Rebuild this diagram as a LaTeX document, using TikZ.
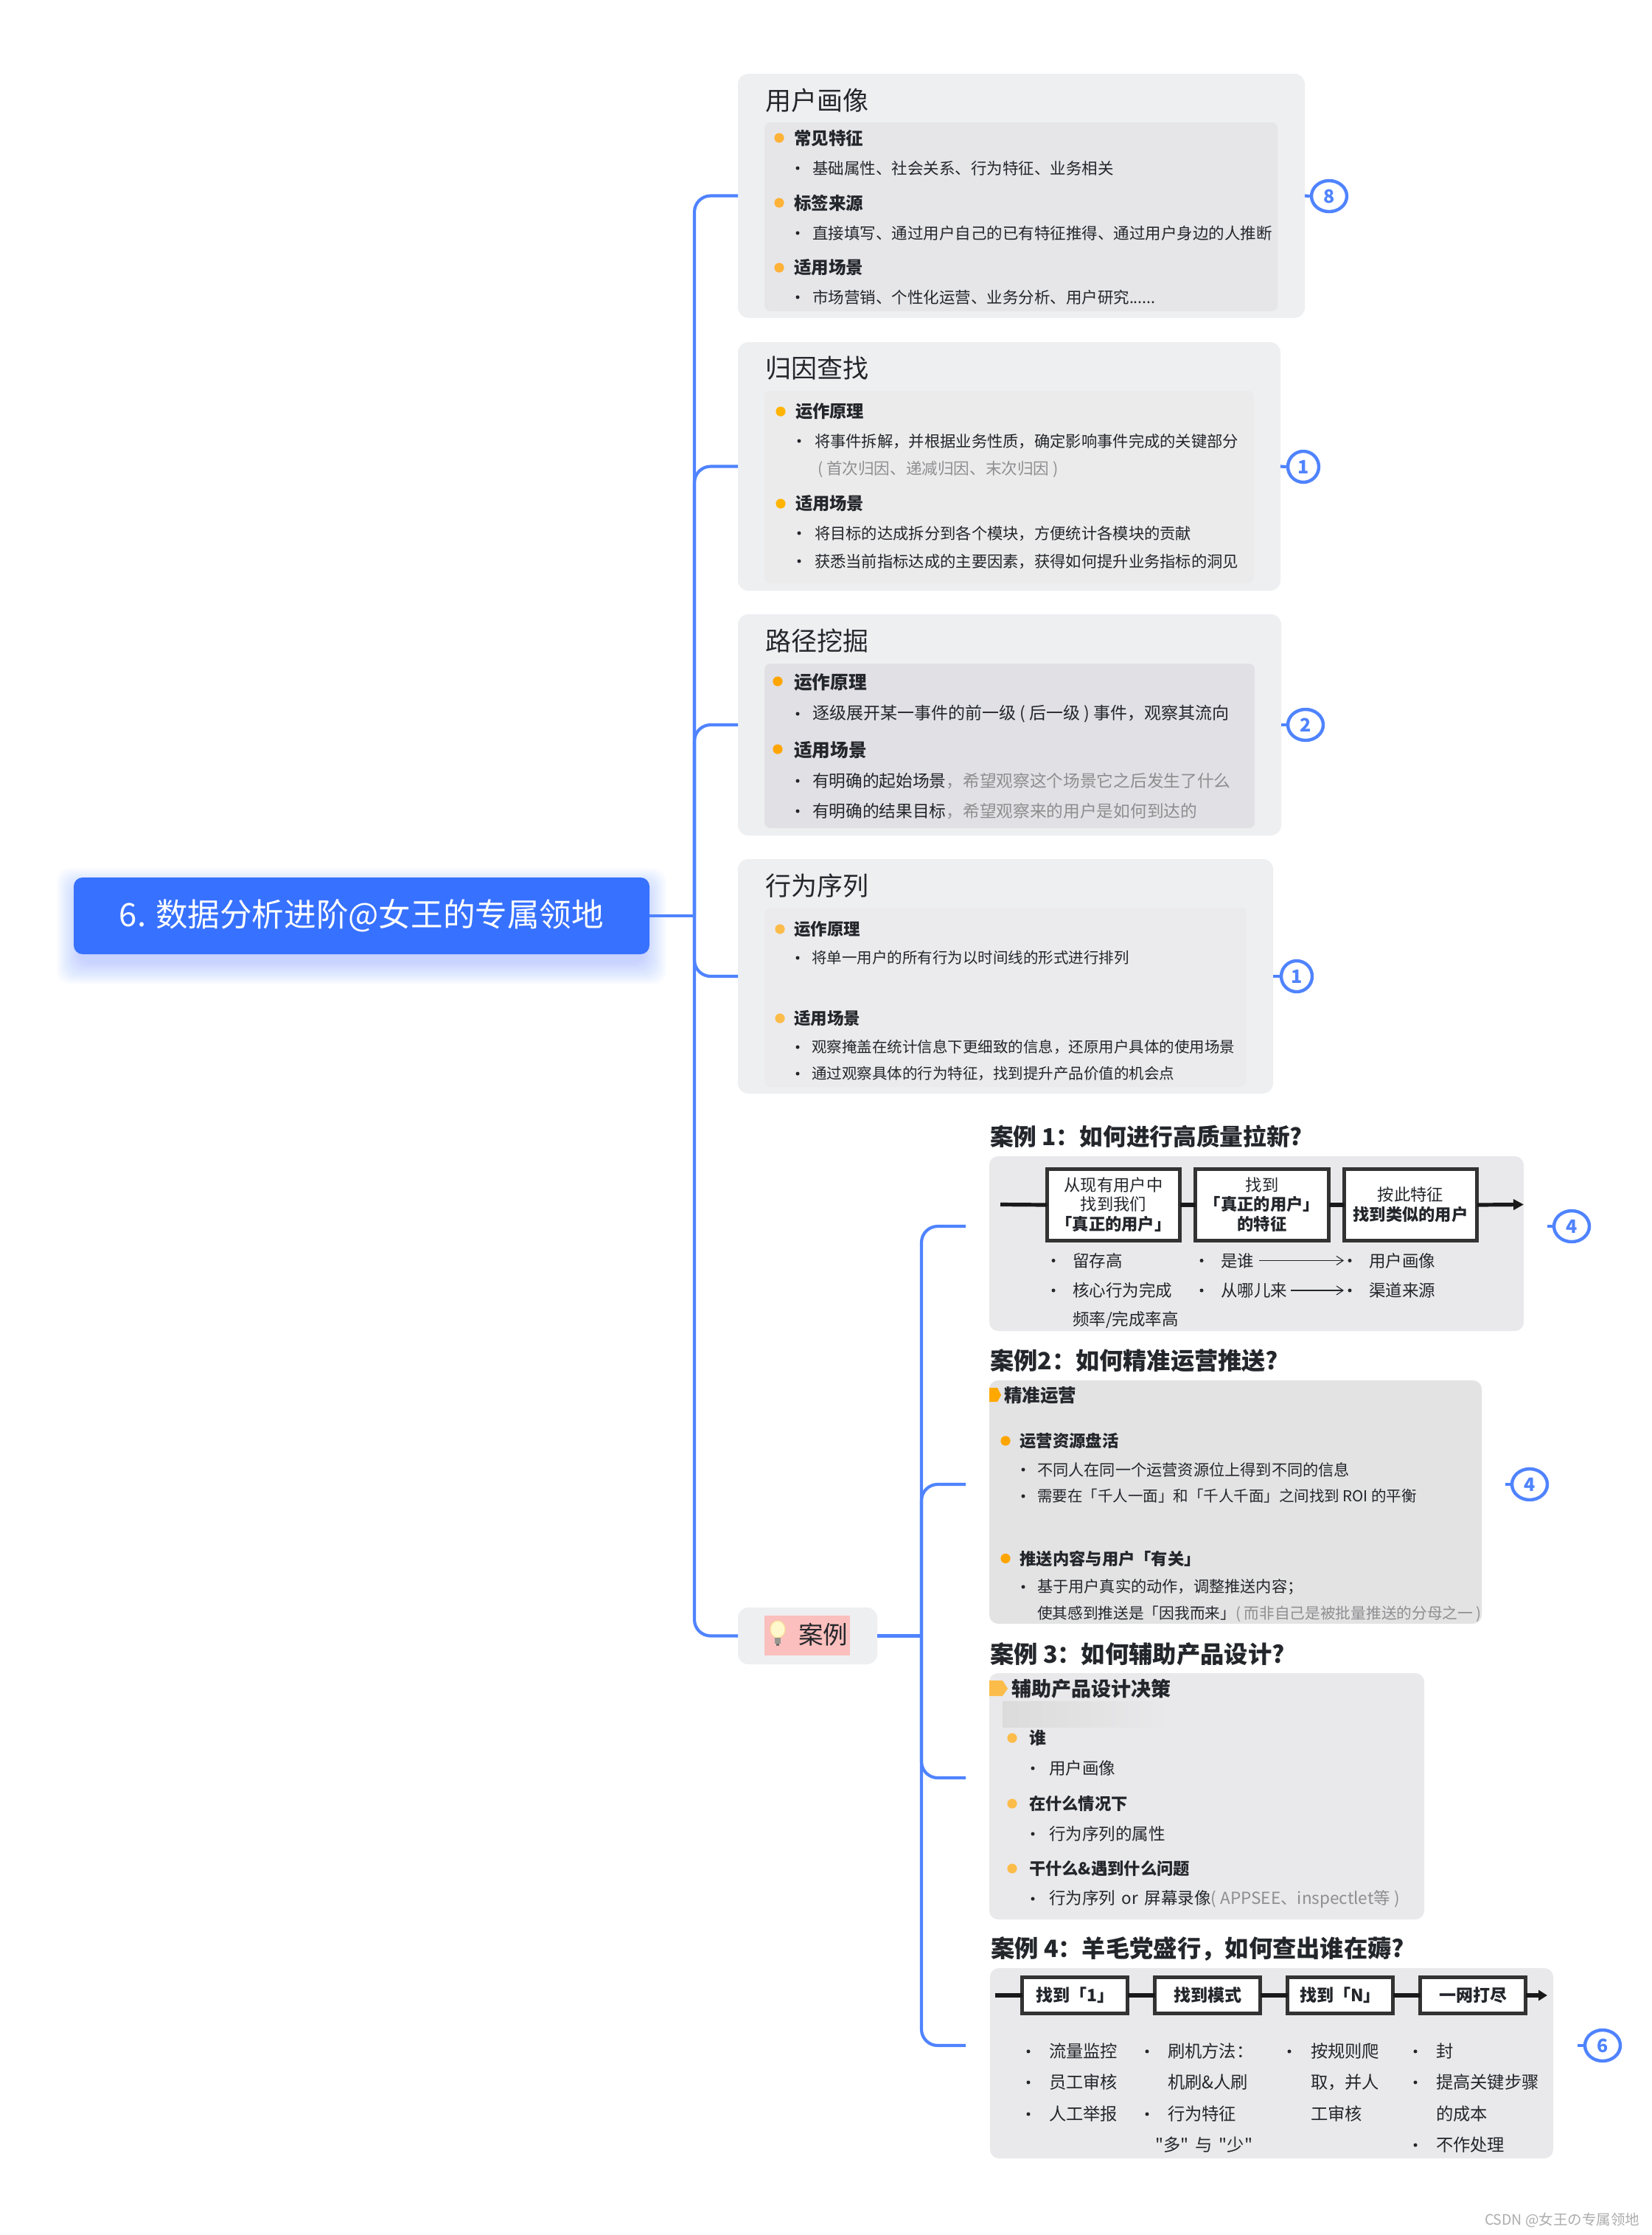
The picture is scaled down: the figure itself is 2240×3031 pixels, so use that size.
\documentclass[tikz,border=0pt]{standalone}
\usepackage{fontspec}
\setmainfont{Noto Sans CJK SC}
\newfontfamily\plainquote{Noto Sans CJK SC}
\usetikzlibrary{shapes.geometric,arrows.meta}
\definecolor{cardbg}{HTML}{EEEFF1}
\definecolor{inA}{HTML}{E6E6E9}
\definecolor{inB}{HTML}{ECEBEC}
\definecolor{inC}{HTML}{E1E0E4}
\definecolor{inD}{HTML}{EBEBED}
\definecolor{panA}{HTML}{E9E9EB}
\definecolor{panB}{HTML}{E3E3E4}
\definecolor{rootblue}{HTML}{3771FF}
\definecolor{linkblue}{HTML}{4F83FF}
\definecolor{ink}{HTML}{23262B}
\definecolor{graytx}{HTML}{8E8E90}
\definecolor{orgA}{HTML}{FFB238}
\definecolor{orgB}{HTML}{FFB400}
\definecolor{orgC}{HTML}{FFA500}
\definecolor{orgD}{HTML}{FCBC4A}
\definecolor{darkbox}{HTML}{333333}
\definecolor{pinkbg}{HTML}{FBBFBD}
\newcounter{tn}
\tikzset{
  px/.code={\pgfmathsetmacro\pxs{#1*0.5}\tikzset{font/.expanded={\noexpand\fontsize{\pxs}{\pxs}\noexpand\selectfont}}},
  txt/.style={anchor=west,inner sep=0pt,outer sep=0pt,text=ink},
  conn/.style={draw=linkblue,line width=2.1pt,rounded corners=11pt},
  stub/.style={draw=linkblue,line width=2.1pt},
  badge/.style={ellipse,draw=linkblue,line width=2.2pt,fill=white,inner sep=0pt,minimum width=24pt,minimum height=21pt,text=linkblue,font=\fontsize{12.5}{12.5}\selectfont\bfseries},
  pane/.style={anchor=north west,inner sep=0pt,outer sep=0pt,draw=none},
  cardbox/.style={pane,fill=cardbg,rounded corners=7pt},
  flowbox/.style={anchor=north west,inner sep=0pt,outer sep=0pt,draw=darkbox,line width=2.5pt,fill=white,text=ink,align=center,font=\fontsize{11}{13.25}\selectfont},
  flowline/.style={draw=black!90,line width=2.6pt},
  thin arrow/.style={draw=ink,line width=0.55pt,-{Straight Barb[length=4.5pt,width=6pt]}},
}
\newcommand\tx[4][]{\stepcounter{tn}\node[txt,#1] (t\arabic{tn}) at (#2,#3) {\rule[-.12em]{0pt}{1em}#4};}
\newcommand\pn[6]{\pgfmathsetmacro\pw{(#5-#3)*0.5}\pgfmathsetmacro\ph{(#6-#4)*0.5}\node[#2,minimum width=\pw pt,minimum height=\ph pt] (#1) at (#3,#4) {};}
\newcommand\dotb[3]{\fill[#3] (#1,#2) circle[radius=3.3pt];}
\newcommand\bu[2]{\fill[ink] (#1,#2) circle[radius=1.25pt];}
\begin{document}
\begin{tikzpicture}[x=0.5pt,y=-0.5pt]
\useasboundingbox (0,0) rectangle (2240,3031);
\fill[white] (0,0) rectangle (2240,3031);

% soft glow under the root
\foreach \i in {0,...,21}{
  \pgfmathsetmacro\g{21-\i}
  \fill[rootblue,opacity=0.012,rounded corners=9pt] (106-1.4*\g,1206-1.4*\g) rectangle (875+1.4*\g,1306+1.4*\g);
}
\node[anchor=north west,inner sep=0pt,outer sep=0pt,fill=rootblue,rounded corners=6pt,minimum width=390.5pt,minimum height=52pt,text=white,font=\fontsize{21.8}{21.8}\selectfont] (root) at (100,1190) {6. 数据分析进阶@女王的专属领地};

% cards
\pn{c1}{cardbox}{1001}{100}{1770}{431}
\pn{c1i}{pane,fill=inA,rounded corners=4pt}{1037}{166}{1733}{422}
\pn{c2}{cardbox}{1001}{464}{1737}{801}
\pn{c2i}{pane,fill=inB,rounded corners=4pt}{1037}{530}{1701}{791}
\pn{c3}{cardbox}{1001}{833}{1738}{1133}
\pn{c3i}{pane,fill=inC,rounded corners=4pt}{1037}{900}{1702}{1123}
\pn{c4}{cardbox}{1001}{1165}{1727}{1483}
\pn{c4i}{pane,fill=inD,rounded corners=4pt}{1037}{1231}{1691}{1474}
\pn{k}{cardbox}{1001}{2180}{1190}{2257}
\pn{kp}{pane,fill=pinkbg}{1037}{2191}{1153}{2245}

% connectors of the first level
\coordinate (j1) at (942,1242);
\draw[stub] (root.east) -- (j1);
\draw[conn] (j1) |- (c1.west);
\draw[conn] (j1) |- (c2.west);
\draw[conn] (j1) |- (c3.west);
\draw[conn] (j1) |- (c4.west);
\draw[conn] (j1) |- (k.west);

% connectors of the second level
\coordinate (j2) at (1250,2218.5);
\coordinate (e1) at (1310,1663);
\coordinate (e2) at (1310,2013);
\coordinate (e3) at (1310,2411);
\coordinate (e4) at (1310,2774);
\draw[stub] (k.east) -- (j2);
\draw[conn] (j2) |- (e1);
\draw[conn] (j2) |- (e2);
\draw[conn] (j2) |- (e3);
\draw[conn] (j2) |- (e4);

% badges
\node[badge] (b1) at (1803,266) {8};
\node[badge,minimum width=21pt] (b2) at (1768,633) {1};
\node[badge] (b3) at (1771,983) {2};
\node[badge,minimum width=21pt] (b4) at (1759,1324) {1};
\draw[stub] (c1.east) -- (b1.west);
\draw[stub] (c2.east) -- (b2.west);
\draw[stub] (c3.east) -- (b3.west);
\draw[stub] (c4.east) -- (b4.west);
\node[badge] (b5) at (2132,1663) {4};
\node[badge] (b6) at (2075,2013) {4};
\node[badge] (b7) at (2174,2774) {6};
\coordinate (s5) at (2099,1663);
\coordinate (s6) at (2042,2013);
\coordinate (s7) at (2140,2774);
\draw[stub] (s5) -- (b5.west);
\draw[stub] (s6) -- (b6.west);
\draw[stub] (s7) -- (b7.west);

% card 1
\tx[px=35]{1038}{136}{用户画像}
\dotb{1057}{187}{orgA}
\tx[px=23.5]{1077}{188}{\bfseries 常见特征}
\bu{1082}{228}
\tx[px=21.5]{1102}{228}{基础属性、社会关系、行为特征、业务相关}
\dotb{1057}{275}{orgA}
\tx[px=23.5]{1077}{276}{\bfseries 标签来源}
\bu{1082}{316}
\tx[px=21.5]{1102}{316}{直接填写、通过用户自己的已有特征推得、通过用户身边的人推断}
\dotb{1057}{363}{orgA}
\tx[px=23.5]{1077}{363}{\bfseries 适用场景}
\bu{1082}{403}
\tx[px=21.5]{1102}{403}{市场营销、个性化运营、业务分析、用户研究......}

% card 2
\tx[px=35]{1038}{499}{归因查找}
\dotb{1059}{558}{orgB}
\tx[px=23.3]{1079}{558}{\bfseries 运作原理}
\bu{1084}{598}
\tx[px=21.3]{1105}{598}{将事件拆解，并根据业务性质，确定影响事件完成的关键部分}
\tx[px=21.6,text=graytx]{1109}{636}{( 首次归因、递减归因、末次归因 )}
\dotb{1059}{683}{orgB}
\tx[px=23.3]{1079}{683}{\bfseries 适用场景}
\bu{1084}{723}
\tx[px=21.3]{1105}{723}{将目标的达成拆分到各个模块，方便统计各模块的贡献}
\bu{1084}{761}
\tx[px=21.3]{1105}{761}{获悉当前指标达成的主要因素，获得如何提升业务指标的洞见}

% card 3
\tx[px=35]{1038}{869}{路径挖掘}
\dotb{1055}{924}{orgC}
\tx[px=24.7]{1077}{925}{\bfseries 运作原理}
\bu{1082}{968}
\tx[px=23]{1102}{968}{逐级展开某一事件的前一级 ( 后一级 ) 事件，观察其流向}
\dotb{1055}{1016}{orgC}
\tx[px=24.7]{1077}{1017}{\bfseries 适用场景}
\bu{1082}{1059}
\tx[px=22.7]{1102}{1059}{有明确的起始场景{\color{graytx}，希望观察这个场景它之后发生了什么}}
\bu{1082}{1100}
\tx[px=22.7]{1102}{1100}{有明确的结果目标{\color{graytx}，希望观察来的用户是如何到达的}}

% card 4
\tx[px=35]{1038}{1201}{行为序列}
\dotb{1058}{1260}{orgD}
\tx[px=22.5]{1077}{1260}{\bfseries 运作原理}
\bu{1082}{1299}
\tx[px=20.5]{1101}{1299}{将单一用户的所有行为以时间线的形式进行排列}
\dotb{1058}{1381}{orgD}
\tx[px=22.5]{1077}{1381}{\bfseries 适用场景}
\bu{1082}{1420}
\tx[px=20.5]{1101}{1420}{观察掩盖在统计信息下更细致的信息，还原用户具体的使用场景}
\bu{1082}{1456}
\tx[px=20.5]{1101}{1456}{通过观察具体的行为特征，找到提升产品价值的机会点}

% case node
\fill[color={rgb,255:red,255;green,248;blue,205}] (1055,2209.5) ellipse[x radius=10,y radius=11.5];
\draw[color={rgb,255:red,250;green,225;blue,150},line width=0.6pt] (1055,2209.5) ellipse[x radius=10,y radius=11.5];
\fill[color={rgb,255:red,150;green,150;blue,145}] (1051,2221) rectangle (1059,2229);
\fill[color={rgb,255:red,110;green,110;blue,105}] (1053,2229) rectangle (1057,2232);
\tx[px=33.5]{1083}{2217}{案例}

% case 1
\tx[px=31.7]{1343}{1541.5}{\bfseries 案例 1：如何进行高质量拉新?}
\pn{p1}{pane,fill=panA,rounded corners=6pt}{1342}{1568}{2067}{1805}
\pn{f1}{flowbox}{1420.5}{1585.5}{1600.5}{1682.5}
\pn{f2}{flowbox}{1621.5}{1585.5}{1802.5}{1682.5}
\pn{f3}{flowbox}{1823.5}{1585.5}{2003.5}{1682.5}
\tx[px=22.3,anchor=center]{1510.5}{1607}{从现有用户中}
\tx[px=22.3,anchor=center]{1510.5}{1633.5}{找到我们}
\tx[px=22.3,anchor=center]{1510.5}{1660}{\bfseries 「真正的用户」}
\tx[px=22.3,anchor=center]{1712}{1607}{找到}
\tx[px=22.3,anchor=center]{1712}{1633.5}{\bfseries 「真正的用户」}
\tx[px=22.3,anchor=center]{1712}{1660}{\bfseries 的特征}
\tx[px=22.3,anchor=center]{1913.5}{1620}{按此特征}
\tx[px=22.3,anchor=center]{1913.5}{1647}{\bfseries 找到类似的用户}
\coordinate (fa) at (1357,1633.5);
\coordinate (fz) at (2067,1633.5);
\draw[flowline] (fa) -- (f1.west);
\draw[flowline] (f1.east) -- (f2.west);
\draw[flowline] (f2.east) -- (f3.west);
\draw[flowline,-{Triangle[length=7pt,width=7pt]}] (f3.east) -- (fz);
\bu{1429}{1709.5}
\tx[px=22.5]{1455}{1709.5}{留存高}
\bu{1429}{1750}
\tx[px=22.5]{1455}{1750}{核心行为完成}
\tx[px=22.5]{1455}{1790}{频率/完成率高}
\bu{1630}{1709.5}
\tx[px=22.5]{1656}{1709.5}{是谁}
\bu{1630}{1750}
\tx[px=22.5]{1656}{1750}{从哪儿来}
\coordinate (a1s) at (1708,1709.5);
\coordinate (a1e) at (1823,1709.5);
\coordinate (a2s) at (1751,1750);
\coordinate (a2e) at (1823,1750);
\draw[thin arrow] (a1s) -- (a1e);
\draw[thin arrow] (a2s) -- (a2e);
\bu{1831}{1709.5}
\tx[px=22.5]{1857}{1709.5}{用户画像}
\bu{1831}{1750}
\tx[px=22.5]{1857}{1750}{渠道来源}

% case 2
\tx[px=32.2]{1343}{1845.5}{\bfseries 案例2：如何精准运营推送?}
\pn{p2}{pane,fill=panB,rounded corners=6pt}{1342}{1872}{2010}{2202}
\fill[orgC!80!orgB] (1342,1882) -- (1353,1882) -- (1358,1892) -- (1353,1901) -- (1342,1901) -- cycle;
\tx[px=24.5]{1362}{1892}{\bfseries 精准运营}
\dotb{1364}{1954}{orgC}
\tx[px=22.3]{1383.5}{1954}{\bfseries 运营资源盘活}
\bu{1388}{1993}
\tx[px=21.2]{1407}{1993}{不同人在同一个运营资源位上得到不同的信息}
\bu{1388}{2029}
\tx[px=20.5]{1407}{2029}{需要在「千人一面」和「千人千面」之间找到 ROI 的平衡}
\dotb{1364}{2113.5}{orgC}
\tx[px=22.3]{1383.5}{2113.5}{\bfseries 推送内容与用户「有关」}
\bu{1388}{2152}
\tx[px=21.2]{1407}{2152}{基于用户真实的动作，调整推送内容；}
\tx[px=20.7]{1407}{2188}{使其感到推送是「因我而来」{\color{graytx} ( 而非自己是被批量推送的分母之一 )}}

% case 3
\tx[px=32.3]{1343}{2243}{\bfseries 案例 3：如何辅助产品设计?}
\pn{p3}{pane,fill=panA,rounded corners=6pt}{1342}{2269}{1932}{2603}
\shade[left color=black!14,right color=panA] (1360,2307) rectangle (1589,2342);
\fill[orgD] (1342,2279) -- (1360,2279) -- (1367,2290) -- (1360,2300) -- (1342,2300) -- cycle;
\tx[px=27]{1372}{2290}{\bfseries 辅助产品设计决策}
\dotb{1373}{2357}{orgD}
\tx[px=23]{1396}{2357}{\bfseries 谁}
\bu{1401}{2398}
\tx[px=22.5]{1423}{2398}{用户画像}
\dotb{1373}{2446}{orgD}
\tx[px=22.3]{1396}{2446}{\bfseries 在什么情况下}
\bu{1401}{2487}
\tx[px=22.5]{1423}{2487}{行为序列的属性}
\dotb{1373}{2534}{orgD}
\tx[px=22.3]{1396}{2534}{\bfseries 干什么\&遇到什么问题}
\bu{1401}{2575}
\tx[px=22.5]{1423}{2575}{行为序列\, or\, 屏幕录像{\color{graytx} ( APPSEE、inspectlet等 )}}

% case 4
\tx[px=32.3]{1344}{2643}{\bfseries 案例 4：羊毛党盛行，如何查出谁在薅?}
\pn{p4}{pane,fill=panA,rounded corners=6pt}{1343}{2669}{2107}{2927}
\pn{g1}{flowbox}{1386.5}{2681.5}{1529.5}{2730.5}
\pn{g2}{flowbox}{1566.5}{2681.5}{1709.5}{2730.5}
\pn{g3}{flowbox}{1746.5}{2681.5}{1889.5}{2730.5}
\pn{g4}{flowbox}{1926.5}{2681.5}{2069.5}{2730.5}
\tx[px=23,anchor=center]{1458}{2706}{\bfseries 找到「1」}
\tx[px=23,anchor=center]{1638}{2706}{\bfseries 找到模式}
\tx[px=23,anchor=center]{1818}{2706}{\bfseries 找到「N」}
\tx[px=23,anchor=center]{1998}{2706}{\bfseries 一网打尽}
\coordinate (ga) at (1350,2706);
\coordinate (gz) at (2099,2706);
\draw[flowline] (ga) -- (g1.west);
\draw[flowline] (g1.east) -- (g2.west);
\draw[flowline] (g2.east) -- (g3.west);
\draw[flowline] (g3.east) -- (g4.west);
\draw[flowline,-{Triangle[length=6pt,width=7pt]}] (g4.east) -- (gz);
\bu{1395}{2782}
\tx[px=23.3]{1423}{2782}{流量监控}
\bu{1395}{2824}
\tx[px=23.3]{1423}{2824}{员工审核}
\bu{1395}{2867}
\tx[px=23.3]{1423}{2867}{人工举报}
\bu{1556}{2782}
\tx[px=23.3]{1584}{2782}{刷机方法：}
\tx[px=23.3]{1584}{2824}{机刷\&人刷}
\bu{1556}{2867}
\tx[px=23.3]{1584}{2867}{行为特征}
\tx[px=23.3]{1567}{2909}{\plainquote "多"\, 与\, "少"}
\bu{1749}{2782}
\tx[px=23.3]{1778}{2782}{按规则爬}
\tx[px=23.3]{1778}{2824}{取，并人}
\tx[px=23.3]{1778}{2867}{工审核}
\bu{1920}{2782}
\tx[px=23.3]{1948}{2782}{封}
\bu{1920}{2824}
\tx[px=23.3]{1948}{2824}{提高关键步骤}
\tx[px=23.3]{1948}{2867}{的成本}
\bu{1920}{2909}
\tx[px=23.3]{1948}{2909}{不作处理}

% watermark
\tx[px=19.5,text=black!32]{2014}{3011}{CSDN @女王の专属领地}
\end{tikzpicture}
\end{document}
